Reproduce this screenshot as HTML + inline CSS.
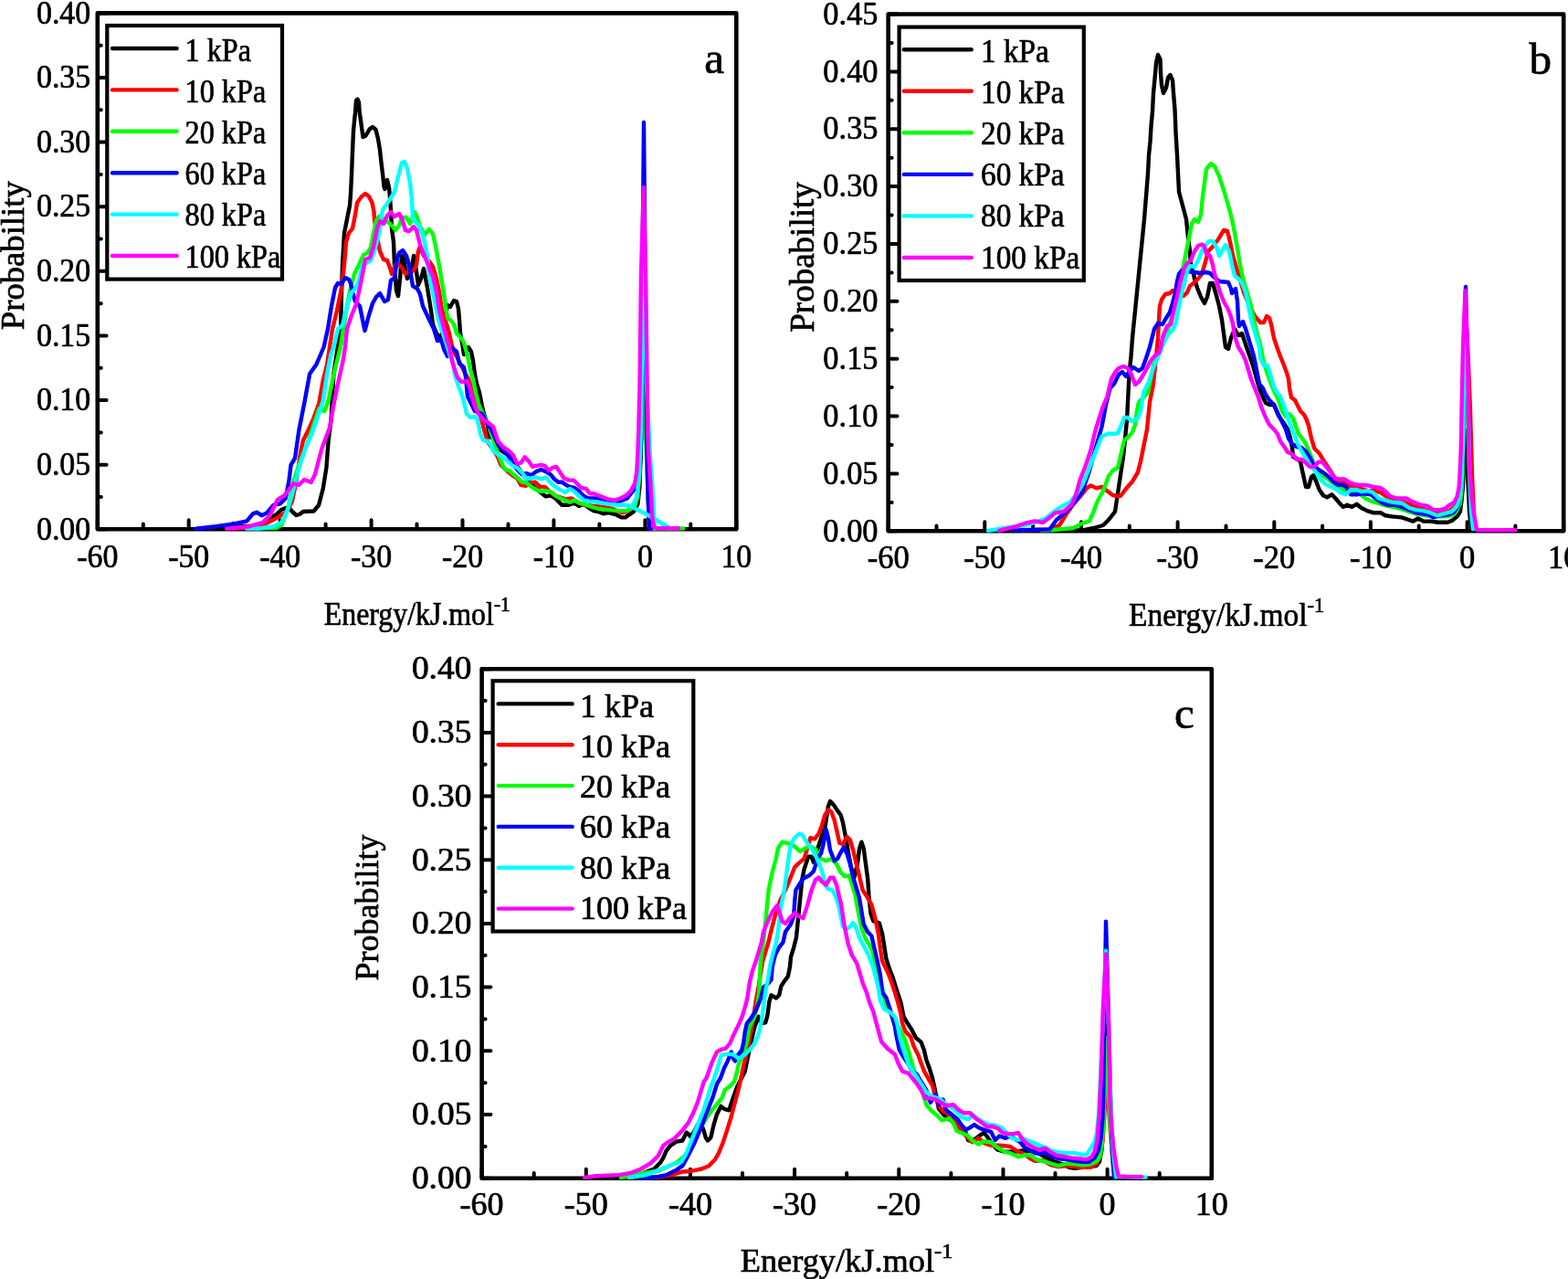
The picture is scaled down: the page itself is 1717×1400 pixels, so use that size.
<!DOCTYPE html><html><head><meta charset="utf-8"><title>Energy distribution</title>
<style>html,body{margin:0;padding:0;background:#fff;overflow:hidden}svg{display:block}text{font-family:"Liberation Serif","Times New Roman",serif;fill:#000;stroke:#000;stroke-width:0.7px}</style></head><body>
<svg width="1717" height="1400" viewBox="0 0 1717 1400">
<rect width="1717" height="1400" fill="#fff"/>
<g id="plot-a">
<path d="M106.8 579.3 V569.3 M156.8 579.3 V573.5 M206.7 579.3 V569.3 M256.7 579.3 V573.5 M306.7 579.3 V569.3 M356.6 579.3 V573.5 M406.6 579.3 V569.3 M456.5 579.3 V573.5 M506.5 579.3 V569.3 M556.5 579.3 V573.5 M606.4 579.3 V569.3 M656.4 579.3 V573.5 M706.4 579.3 V569.3 M756.3 579.3 V573.5 M806.3 579.3 V569.3 M106.8 579.3 H116.6 M106.8 544 H110.8 M106.8 508.7 H116.6 M106.8 473.4 H110.8 M106.8 438.1 H116.6 M106.8 402.8 H110.8 M106.8 367.5 H116.6 M106.8 332.2 H110.8 M106.8 296.8 H116.6 M106.8 261.5 H110.8 M106.8 226.2 H116.6 M106.8 190.9 H110.8 M106.8 155.6 H116.6 M106.8 120.3 H110.8 M106.8 85 H116.6 M106.8 49.7 H110.8 M106.8 14.4 H116.6" stroke="#000" stroke-width="4" stroke-linecap="round" fill="none"/>
<rect x="106.8" y="14.4" width="699.5" height="564.9" fill="none" stroke="#000" stroke-width="4.6" stroke-linejoin="round"/>
<clipPath id="clip-a"><rect x="106.8" y="14.4" width="699.5" height="566.4"/></clipPath>
<g clip-path="url(#clip-a)" fill="none" stroke-width="4.4" stroke-linejoin="round" stroke-linecap="round">
<path d="M230 578.5 L250 576 L256 573 L262 576 L280 576 L290 572 L297 566 L303 563 L308 558 L313 556 L317 556 L320 560 L324.5 564 L328 563 L332 560 L343.5 559.5 L349 553 L353.7 535 L357.4 512 L359.6 482.5 L362.5 460 L365.4 409 L369.8 380 L373 360 L374 320 L375 290 L377 255 L380 240 L383 225 L384 212 L385 192 L386 166 L387 143 L389 123 L390 110 L391.5 108.5 L393 112 L393.5 121 L395 132 L397.5 150 L400 149 L405 141 L408 139 L411.5 142 L414 152 L416 164 L417.5 178 L419 190 L420.5 204 L421.5 207 L424 197 L426 205 L427 216 L428 230 L429 250 L431 265 L432 290 L434 318 L436 324 L438 305 L440 280 L442 284 L446 305 L450 300 L453 280 L455 290 L458 312 L461 305 L464 294 L468 315 L472 340 L474 355 L478 365 L483 370 L485 362 L490 334 L493 336 L497 329 L500 330 L502 338 L503 350 L504 365 L506 375 L508 388 L513 380 L516 385 L518 395 L520 410 L522 420 L525 430 L528 445 L530 453 L534 465 L536 478 L540 480 L545 490 L550 494 L556 498 L561 502.5 L566 510 L575 522 L580 528 L587 535 L597.7 543.4 L603 542.3 L608 545.5 L615.5 552.8 L621.8 552.8 L629 550.7 L634 554 L639.6 551.8 L645 556 L650 559 L655 560 L660.6 562.3 L666 561 L674 563 L680.5 566.4 L684.7 566.4 L689 563.3 L694 560 L698.3 552 L700.4 533 L701.5 501 L703 450 L705 395 L707 450 L708.8 501.5 L709.8 543.4 L711 578.5" stroke="#000000"/>
<path d="M255 578.5 L275 577 L290.8 573.3 L302.5 567.4 L314.2 560 L320 548.4 L324.5 526.4 L328.8 497.1 L331.8 482.5 L337.6 470.8 L343.5 457.6 L349.3 441.5 L353.7 416.6 L358.1 399 L361 380 L364 360 L369 340 L374 315 L377 290 L379 265 L382 255 L386 250 L389 235 L391 222 L396 215 L400 212 L404 215 L407.5 222 L409.5 232 L410 240 L413 260 L416 275 L420 284 L424 285 L427 293 L429 300 L433 290 L437 290 L440 293 L444 300 L448 297 L453 296 L456 290 L458 275 L460 270 L464 280 L470 286 L474 292 L478 305 L481 320 L484 340 L490 358 L492 365 L494 375 L497 385 L500 390 L505 400 L510 410 L513 415 L518 430 L523 445 L528 462 L530 470 L533 480 L535 485 L540 492 L545 500 L548.4 508.8 L553.6 514 L561 520.3 L566.2 523.5 L570.4 530.8 L575.6 531.9 L580.9 528.7 L586.1 527.7 L591.4 532.9 L596.6 532.9 L601.9 538.1 L607.1 542.3 L613.4 544.4 L619.7 546.5 L626 545.5 L632.3 549.7 L639.6 552.8 L650.1 553.9 L660.6 554.9 L671 557 L681.5 561.2 L688.9 559.1 L695.2 553.9 L699.3 532.9 L701.4 501.5 L703 440 L705 330 L707 440 L709 520 L711 578.5" stroke="#ff0000"/>
<path d="M280 578.5 L295 578 L302.5 578 L308.3 574.7 L315.7 555.7 L321.5 526.4 L327.4 508.8 L337.6 482.5 L346.4 456.1 L349.3 447.3 L355.2 450.3 L359.6 438.6 L364 416.6 L368.4 397.6 L372.8 380 L376 360 L380 335 L384 315 L388 300 L393 290 L398 279 L402 277 L406 271 L409 255 L412 242 L415 237 L420 240 L426 244 L430 248 L433 252 L437 247 L440 238 L445 238 L449 245 L454 232 L456 236 L460 248 L465 257 L470 251 L474 256 L476 265 L479 280 L482 297 L485 315 L488 335 L490 348 L494 351 L497 355 L500 365 L505 370 L508 375 L512 390 L515 405 L518 415 L521 430 L525 445 L530 455 L535 465 L540 481 L545.2 496.2 L550.5 509.8 L553.6 514 L557.8 515.1 L561 518.2 L566.2 522.4 L571.5 527.7 L576.7 528.7 L581.9 532.9 L587.2 536 L592.4 538.1 L597.7 537.1 L602.9 538.1 L608.1 542.3 L613.4 545.5 L618.6 547.6 L623.9 549.7 L629.1 547.6 L634.3 550.7 L639.6 551.8 L644.8 553.9 L655.3 557 L665.8 558.1 L676.3 559.1 L686.8 559.1 L695.2 553.9 L698.3 543.4 L700.4 512 L702.5 470 L705 370 L707 470 L709 530 L711 570 L713 578.5 L748 578.5" stroke="#00ff00"/>
<path d="M214.6 578.8 L236.6 576.2 L258.6 573 L270.3 570.3 L276.9 562.3 L281.3 560.8 L286.4 564.2 L292.2 561.5 L299.6 552.8 L306.9 551.3 L312.7 545.4 L316.4 526.4 L318.6 508.8 L323 501.5 L327.4 470.8 L333.2 441.5 L339.1 409.3 L346.4 399 L354.5 380 L359 360 L363 335 L367 315 L370 310 L374 311 L378 304 L382 306 L384 310 L386 320 L389 330 L394 335 L397 350 L399.5 362 L404 345 L408 332 L412 325 L416 321 L421 330 L425 328 L428 307 L432 304 L435 283 L437 277 L441 274 L445 280 L448 290 L452 313 L457 316 L460 322 L463 335 L470 350 L475 360 L479 373 L483 371 L486 382 L490 390 L494 380 L500 385 L503 398 L508 402 L510 413 L512 434 L520 450 L528 453 L534 465 L538 470 L546 488 L550 491 L555.7 497.3 L561 506.7 L566.2 514 L571.5 519.3 L576.7 518.2 L581.9 520.3 L587.2 516.1 L592.4 514 L597.7 516.1 L602.9 519.3 L607.1 524.5 L611.3 527.7 L615.5 527.7 L619.7 530.8 L623.9 532.9 L629.1 534 L634.3 538.1 L639.6 543.4 L644.8 545.5 L655.3 545.5 L665.8 547.6 L676.3 549.7 L686.8 545.5 L695.2 535 L699.3 522.4 L701.4 501.5 L702.5 470 L703.5 300 L705 134 L706.5 300 L708 470 L709.5 540 L711 578.8 L713 578.8" stroke="#0000ff"/>
<path d="M270 578.8 L282 578.8 L299.6 576.2 L308.3 571.8 L314.2 560 L320 541 L327.4 511.8 L334.7 489.8 L342 473.7 L347.9 456.1 L353.7 438.6 L358.1 409.3 L362.5 387.3 L365.4 380 L370 360 L375 356 L380 335 L385 320 L389 316 L393 307 L397 290 L401 288 L406 285 L410 275 L414 260 L416 250 L419 230 L420 228 L426 220 L432 210 L436 193 L440 178 L443 177 L446 185 L449 200 L451 218 L452 240 L458 246 L462 255 L465 265 L468 280 L470 300 L474 320 L480 350 L485 365 L490 380 L493 390 L495 392 L498 410 L502 423 L505 430 L508 440 L511 453 L515 457 L520 456 L523 460 L526 475 L529 482 L534 483 L538 488 L540 494 L545.2 497.3 L550.5 500.4 L555.7 504.6 L561 509.8 L566.2 511.9 L571.5 517.2 L576.7 524.5 L581.9 523.5 L587.2 522.4 L592.4 524.5 L597.7 522.4 L602.9 528.7 L608.1 532.9 L613.4 536 L618.6 539.2 L623.9 535 L629.1 538.1 L634.3 543.4 L639.6 547.6 L644.8 548.6 L655.3 549.7 L665.8 551.8 L676.3 552.8 L684.7 552.8 L690 554 L700 559 L710 564 L720 570 L730 576 L733 578.5" stroke="#00ffff"/>
<path d="M692 554 L697 545 L700 520 L702 470 L705 250 L708 420 L712 500 L714 527 L716 560 L717 578.5" stroke="#00ffff"/>
<path d="M248.3 578.8 L273.2 576.2 L287.8 571.8 L295.2 564.5 L304 546.9 L311.3 542.5 L321.5 529.3 L327.4 530.8 L333.2 525 L340.6 527.9 L345 519.1 L352.3 491.3 L361.1 467.8 L365.4 443 L369.8 421 L375.7 394.6 L377.9 380 L380 360 L385 345 L390 333 L394 315 L397 300 L400 284 L405 282 L409 270 L413 250 L416 242 L420 245 L424 236 L428 232 L432 237 L437 234 L440 239 L444 252 L448 253 L453 248 L456 252 L460 268 L464 278 L468 288 L472 298 L474 302 L478 320 L481 340 L485 355 L489 370 L492 380 L495 395 L498 405 L501 413 L505 418 L511 417 L514 423 L517 435 L520 445 L524 453 L530 460 L535 463 L540 467 L545.2 482.6 L550.5 488.9 L557.8 494.1 L562 498.3 L566.2 507.7 L570.4 506.7 L574.6 500.4 L578.8 504.6 L583 510.9 L587.2 509.8 L592.4 508.8 L596.6 509.8 L600.8 515.1 L605 511.9 L609.2 510.9 L613.4 517.2 L617.6 523.5 L622.8 525.6 L628.1 525.6 L632.3 529.8 L636.4 534 L641.7 535 L645.9 540.2 L650.1 540.2 L655.3 542.3 L660.6 544.4 L665.8 546.5 L673.1 547.6 L679.4 545.5 L685.7 542.3 L691 537.1 L695.2 528.7 L697.2 517.2 L698.3 496.2 L699.3 470 L700.5 420 L702 300 L704.8 205 L707 300 L709.3 470 L709.8 491 L711.9 522.4 L713 543.4 L714 564.3 L716 577 L720 578.3 L743 578.3" stroke="#ff00ff"/>
</g>
<text transform="translate(99.2 590.5) scale(0.94 1)" font-size="36" text-anchor="end">0.00</text>
<text transform="translate(99.2 519.9) scale(0.94 1)" font-size="36" text-anchor="end">0.05</text>
<text transform="translate(99.2 449.3) scale(0.94 1)" font-size="36" text-anchor="end">0.10</text>
<text transform="translate(99.2 378.7) scale(0.94 1)" font-size="36" text-anchor="end">0.15</text>
<text transform="translate(99.2 308) scale(0.94 1)" font-size="36" text-anchor="end">0.20</text>
<text transform="translate(99.2 237.4) scale(0.94 1)" font-size="36" text-anchor="end">0.25</text>
<text transform="translate(99.2 166.8) scale(0.94 1)" font-size="36" text-anchor="end">0.30</text>
<text transform="translate(99.2 96.2) scale(0.94 1)" font-size="36" text-anchor="end">0.35</text>
<text transform="translate(99.2 25.6) scale(0.94 1)" font-size="36" text-anchor="end">0.40</text>
<text transform="translate(106.8 621) scale(0.94 1)" font-size="36" text-anchor="middle">-60</text>
<text transform="translate(206.7 621) scale(0.94 1)" font-size="36" text-anchor="middle">-50</text>
<text transform="translate(306.7 621) scale(0.94 1)" font-size="36" text-anchor="middle">-40</text>
<text transform="translate(406.6 621) scale(0.94 1)" font-size="36" text-anchor="middle">-30</text>
<text transform="translate(506.5 621) scale(0.94 1)" font-size="36" text-anchor="middle">-20</text>
<text transform="translate(606.4 621) scale(0.94 1)" font-size="36" text-anchor="middle">-10</text>
<text transform="translate(706.4 621) scale(0.94 1)" font-size="36" text-anchor="middle">0</text>
<text transform="translate(806.3 621) scale(0.94 1)" font-size="36" text-anchor="middle">10</text>
<text transform="translate(354.8 683.7) scale(0.885 1)" font-size="36">Energy/kJ.mol<tspan font-size="24" dy="-15">-1</tspan></text>
<text transform="translate(25.7 279.7) rotate(-90)" font-size="36.7" text-anchor="middle">Probability</text>
<text transform="translate(771.2 79.5) scale(1.0 1)" font-size="49">a</text>
<rect x="117.3" y="28.0" width="191.7" height="277.6" fill="#fff" stroke="#000" stroke-width="4.2"/>
<path d="M123 53 H193.6" stroke="#000000" stroke-width="4.4" stroke-linecap="round"/>
<text transform="translate(202.6 67.1) scale(0.895 1)" font-size="36">1 kPa</text>
<path d="M123 98.4 H193.6" stroke="#ff0000" stroke-width="4.4" stroke-linecap="round"/>
<text transform="translate(202.6 112.2) scale(0.895 1)" font-size="36">10 kPa</text>
<path d="M123 143.8 H193.6" stroke="#00ff00" stroke-width="4.4" stroke-linecap="round"/>
<text transform="translate(202.6 157.3) scale(0.895 1)" font-size="36">20 kPa</text>
<path d="M123 189.2 H193.6" stroke="#0000ff" stroke-width="4.4" stroke-linecap="round"/>
<text transform="translate(202.6 202.3) scale(0.895 1)" font-size="36">60 kPa</text>
<path d="M123 234.6 H193.6" stroke="#00ffff" stroke-width="4.4" stroke-linecap="round"/>
<text transform="translate(202.6 247.4) scale(0.895 1)" font-size="36">80 kPa</text>
<path d="M123 280 H193.6" stroke="#ff00ff" stroke-width="4.4" stroke-linecap="round"/>
<text transform="translate(202.6 292.5) scale(0.895 1)" font-size="36">100 kPa</text>
</g>
<g id="plot-b">
<path d="M972.7 581.3 V571.3 M1025.5 581.3 V575.5 M1078.3 581.3 V571.3 M1131.2 581.3 V575.5 M1184 581.3 V571.3 M1236.8 581.3 V575.5 M1289.6 581.3 V571.3 M1342.5 581.3 V575.5 M1395.3 581.3 V571.3 M1448.1 581.3 V575.5 M1500.9 581.3 V571.3 M1553.7 581.3 V575.5 M1606.6 581.3 V571.3 M1659.4 581.3 V575.5 M1712.2 581.3 V571.3 M972.7 581.3 H982.5 M972.7 549.9 H976.7 M972.7 518.4 H982.5 M972.7 487 H976.7 M972.7 455.6 H982.5 M972.7 424.1 H976.7 M972.7 392.7 H982.5 M972.7 361.3 H976.7 M972.7 329.8 H982.5 M972.7 298.4 H976.7 M972.7 267 H982.5 M972.7 235.5 H976.7 M972.7 204.1 H982.5 M972.7 172.7 H976.7 M972.7 141.2 H982.5 M972.7 109.8 H976.7 M972.7 78.4 H982.5 M972.7 46.9 H976.7 M972.7 15.5 H982.5" stroke="#000" stroke-width="4" stroke-linecap="round" fill="none"/>
<rect x="972.7" y="15.5" width="739.5" height="565.8" fill="none" stroke="#000" stroke-width="4.6" stroke-linejoin="round"/>
<clipPath id="clip-b"><rect x="972.7" y="15.5" width="739.5" height="567.3"/></clipPath>
<g clip-path="url(#clip-b)" fill="none" stroke-width="4.4" stroke-linejoin="round" stroke-linecap="round">
<path d="M1160 580.5 L1187 580.2 L1197.5 578 L1208 575 L1214 569 L1221 560 L1224 540 L1227 520 L1230 500 L1232 480 L1234 460 L1235 440 L1236 420 L1237 405 L1238.5 390 L1240 370 L1242 350 L1244 330 L1246 310 L1247 300 L1249 280 L1251 260 L1253 240 L1255 215 L1257 190 L1258 170 L1259.5 155 L1260.5 138 L1262 122 L1263 102 L1265 81 L1266 69 L1268 60 L1270.5 65 L1271 80 L1272 93 L1274 102 L1277 96 L1279 85 L1281.5 82 L1284 88 L1285 102 L1286.5 120 L1287.5 145 L1289 170 L1290 190 L1291 210 L1295 225 L1299 240 L1301 260 L1303 275 L1304 290 L1307 300 L1308 305 L1311 315 L1315 325 L1319 332 L1322 325 L1325 310 L1328 310 L1331 320 L1335 335 L1338 350 L1340 365 L1342 380 L1345 382 L1348 370 L1352 360 L1356 367 L1360 365 L1365 380 L1372 400 L1377 418 L1379 425 L1383 435 L1386 441 L1390 443 L1395 443 L1400 455 L1405 462 L1410 470 L1413 480 L1415 490 L1416 500 L1420 502 L1424 505 L1426 515 L1430 533 L1433 533 L1436 522 L1438.4 520.3 L1441.5 527.7 L1444.7 536 L1448.9 542.3 L1453.1 544.4 L1458.3 541.3 L1462.5 545.5 L1466.7 550.7 L1470.9 554.9 L1475.1 552.8 L1480.3 554.9 L1485.6 551.8 L1490.8 556 L1497.1 559.1 L1503.4 561.2 L1511.8 561.2 L1517 564.3 L1524.3 565.4 L1534.8 566.4 L1541.1 568.5 L1547.4 570.6 L1552.7 567.5 L1558.9 570.6 L1566.3 570.6 L1574.7 571.7 L1585.2 571.7 L1590.4 569.6 L1595.6 565.4 L1598.8 560.2 L1600.4 548.6 L1601.9 532.9 L1603 511.9 L1604 485.7 L1605 471 L1606.5 490 L1607.5 528 L1609 560 L1611 579" stroke="#000000"/>
<path d="M1120 580.5 L1151 579.4 L1160 575 L1167.5 563 L1175 552.4 L1184 542 L1190 534.4 L1194.5 531.4 L1200.5 534.4 L1206.5 533 L1212.5 537.4 L1218.5 542 L1223 543 L1227 543 L1233 535 L1240 527 L1246 517 L1249 505 L1252 490 L1254 480 L1256 470 L1257.5 455 L1259 440 L1261 430 L1263 420 L1264 410 L1266 390 L1268 370 L1269 350 L1270 335 L1272 328 L1276 322 L1281 321 L1284 318 L1290 322 L1296 324 L1300 320 L1303 313 L1307 310 L1312 305 L1316 300 L1319 290 L1323 275 L1328 270 L1334 262 L1340 252 L1344 253 L1347 265 L1350 280 L1353 290 L1356 300 L1359 310 L1362 320 L1366 330 L1370 338 L1374 346 L1380 353 L1384 353 L1387 346 L1390 348 L1392 355 L1395 370 L1399 382 L1402 390 L1406 400 L1409 408 L1411 415 L1412 425 L1414 435 L1418 438 L1421 444 L1424 450 L1428 454 L1431 460 L1433 466 L1436 480 L1439.4 491 L1444.7 496.2 L1448.9 503.5 L1453.1 509.8 L1457.3 516.1 L1462.5 524.5 L1468.8 527.7 L1475.1 530.8 L1482.4 532.9 L1490.8 535 L1498.1 537.1 L1505.5 537.1 L1511.8 539.2 L1518.1 543.4 L1524.3 546.5 L1534.8 548.6 L1545.3 552.8 L1555.8 556 L1566.3 560.2 L1576.8 562.3 L1587.2 559.1 L1593.5 553.9 L1597.7 543.4 L1599.8 522.4 L1600.9 491 L1603 420 L1605 340 L1608 400 L1610 450 L1612 520 L1614 565 L1616 579" stroke="#ff0000"/>
<path d="M1140 580.5 L1152.5 580.2 L1175 578 L1184 573.4 L1193 570.4 L1197.5 560 L1202 548 L1208 537.4 L1214 521 L1218.5 515 L1224 512 L1228 495 L1231 482 L1236 478 L1240 473 L1243 465 L1245 450 L1247 440 L1252 435 L1257 430 L1261 410 L1264 395 L1270 385 L1275 372 L1280 357 L1284 345 L1288 330 L1292 312 L1295 295 L1299 275 L1302 260 L1305 245 L1308 240 L1312 243 L1315 235 L1317 215 L1319 200 L1321 185 L1326 179 L1330 182 L1335 193 L1340 208 L1345 225 L1349 240 L1352 255 L1355 272 L1358 290 L1361 305 L1364 315 L1367 325 L1370 335 L1373 350 L1377 367 L1380 377 L1383 393 L1387 407 L1391 418 L1395 428 L1400 438 L1404 450 L1408 456 L1412 453 L1416 458 L1419 467 L1422 475 L1426 480 L1430 486 L1434.2 496.2 L1438.4 506.7 L1442.6 514 L1447.8 520.3 L1453.1 523.5 L1459.4 528.7 L1464.6 531.9 L1469.8 535 L1476.1 538.1 L1482.4 538.1 L1488.7 540.2 L1495 545.5 L1501.3 548.6 L1508.6 550.7 L1519.1 553.9 L1529.6 556 L1540.1 559.1 L1550.6 562.3 L1561 564.3 L1571.5 565.4 L1582 565.4 L1589.4 564.3 L1594.6 560.2 L1598.8 551.8 L1600.9 532.9 L1601.9 501.5 L1603 450 L1605 380 L1607 450 L1609 520 L1611 560 L1613 579" stroke="#00ff00"/>
<path d="M1110 580.5 L1127 580 L1149.5 579.4 L1157 569 L1167.5 560 L1178 548 L1185.5 537.4 L1193 515 L1200.5 488 L1206.5 467 L1211 443 L1215.5 425 L1220 420 L1225 410 L1229 407 L1233 412 L1237 406 L1241 402 L1247 406 L1251 403 L1255 392 L1259 380 L1262 368 L1264 360 L1268 354 L1273 355 L1277 348 L1281 342 L1284 332 L1287 320 L1289 308 L1291 300 L1294 296 L1300 297 L1308 298 L1314 299 L1320 298 L1325 299 L1328 302 L1335 308 L1345 309 L1348 316 L1349 321 L1353 316 L1355 330 L1356 350 L1357 357 L1361 352 L1364 360 L1367 370 L1370 380 L1373 390 L1376 405 L1379 420 L1383 425 L1386 432 L1390 438 L1395 443 L1399 452 L1404 462 L1408 470 L1411 480 L1415 486 L1420 489 L1425 490 L1430 494.1 L1435.2 502.5 L1438.4 508.8 L1443.6 514 L1448.9 517.2 L1453.1 520.3 L1459.4 526.6 L1464.6 530.8 L1469.8 530.8 L1474 532.9 L1479.3 541.3 L1485.6 541.3 L1492.9 540.2 L1501.3 541.3 L1507.6 546.5 L1513.9 550.7 L1520.2 552.8 L1527.5 552.8 L1534.8 554.9 L1543.2 558.1 L1550.6 561.2 L1557.9 562.3 L1564.2 563.3 L1569.4 566.4 L1576.8 564.3 L1585.2 563.3 L1591.4 561.2 L1596.7 553.9 L1599.8 532.9 L1601.9 501.5 L1603 420 L1605 314 L1607 420 L1609 500 L1611 560 L1613 579" stroke="#0000ff"/>
<path d="M1082 581 L1100 578 L1122.5 575 L1137.5 570.4 L1145 567.4 L1154 560 L1163 554 L1172 549.4 L1178 542 L1185.5 530 L1193 512 L1200.5 492.5 L1206.5 477.5 L1214 474.5 L1220 475 L1224 474 L1228 465 L1231 457 L1235 457 L1239 461 L1246 458 L1249 450 L1252 430 L1258 418 L1262 405 L1266 395 L1270 386 L1273 378 L1277 370 L1281 364 L1285 360 L1288 352 L1290 340 L1292 330 L1294 320 L1297 310 L1300 296 L1303 291 L1308 292 L1312 285 L1316 275 L1320 268 L1324 264 L1328 264 L1332 270 L1335 280 L1338 275 L1342 268 L1346 275 L1349 290 L1352 302 L1356 305 L1360 310 L1364 320 L1366 330 L1368 340 L1370 350 L1373 360 L1376 370 L1379 380 L1380 392 L1384 400 L1388 400 L1391 410 L1394 420 L1397 428 L1402 434 L1405 442 L1408 450 L1411 460 L1414 468 L1418 478 L1422 488 L1426 495 L1431 503 L1435 510 L1440.5 516.1 L1445.7 524.5 L1451 529.8 L1457.3 532.9 L1462.5 535 L1467.7 539.2 L1474 541.3 L1479.3 536 L1485.6 536 L1490.8 538.1 L1498.1 537.1 L1503.4 539.2 L1509.7 545.5 L1517 547.6 L1524.3 549.7 L1534.8 550.7 L1543.2 556 L1550.6 558.1 L1558.9 559.1 L1566.3 561.2 L1573.6 564.3 L1581 562.3 L1589.4 560.2 L1595.6 553.9 L1598.8 543.4 L1600.9 522.4 L1601.9 491 L1603 420 L1605 330 L1607 420 L1609 500 L1611 560 L1613 579" stroke="#00ffff"/>
<path d="M1094 581 L1112 576.4 L1122.5 572.7 L1133 570.4 L1142 572 L1148 567.4 L1155.5 561.4 L1164.5 560 L1173.5 552.4 L1178 542 L1182.5 525.4 L1188.5 510.5 L1194.5 492.5 L1199 473 L1203.5 458 L1208 444.5 L1212.5 434 L1217 414.5 L1221.5 407 L1225 403 L1230 401 L1235 403 L1239 410 L1243 421 L1247 418 L1252 410 L1256 403 L1260 395 L1264 390 L1269 386 L1271 380 L1273 370 L1275 364 L1278 357 L1282 355 L1284 346 L1287 332 L1290 320 L1292 310 L1295 300 L1296 295 L1300 288 L1304 285 L1308 275 L1312 269 L1316 267.5 L1319 270 L1321 278 L1325 280 L1328 290 L1330 300 L1333 310 L1336 320 L1340 330 L1344 337 L1347 344 L1350 354 L1352 368 L1356 380 L1361 388 L1364 395 L1367 405 L1370 415 L1374 425 L1378 435 L1381 445 L1385 455 L1390 465 L1395 470 L1399 475 L1402 483 L1407 490 L1410 495 L1415 497 L1420 503 L1426 503 L1430 506.7 L1434.2 510.9 L1439.4 510.9 L1443.6 505.6 L1447.8 505.6 L1453.1 511.9 L1457.3 517.2 L1461.5 523.5 L1466.7 524.5 L1471.9 524.5 L1477.2 527.7 L1482.4 529.8 L1488.7 530.8 L1498.1 531.3 L1503.4 532.9 L1511.8 533.9 L1516 537.1 L1522.3 543.4 L1529.6 545.5 L1540.1 545.5 L1545.3 548.6 L1550.6 550.7 L1555.8 552.8 L1563.1 553.9 L1569.4 558.1 L1576.8 558.1 L1582 557 L1587.2 552.8 L1592.5 549.7 L1595.6 543.4 L1597.7 532.9 L1598.8 514 L1599.8 491 L1600.5 450 L1602 380 L1604.5 318 L1607 380 L1608.6 500 L1611.4 542.9 L1614.3 564.3 L1617.1 580.2 L1659.3 580.2" stroke="#ff00ff"/>
</g>
<text transform="translate(961.5 592.5) scale(0.955 1)" font-size="36" text-anchor="end">0.00</text>
<text transform="translate(961.5 529.6) scale(0.955 1)" font-size="36" text-anchor="end">0.05</text>
<text transform="translate(961.5 466.8) scale(0.955 1)" font-size="36" text-anchor="end">0.10</text>
<text transform="translate(961.5 403.9) scale(0.955 1)" font-size="36" text-anchor="end">0.15</text>
<text transform="translate(961.5 341) scale(0.955 1)" font-size="36" text-anchor="end">0.20</text>
<text transform="translate(961.5 278.2) scale(0.955 1)" font-size="36" text-anchor="end">0.25</text>
<text transform="translate(961.5 215.3) scale(0.955 1)" font-size="36" text-anchor="end">0.30</text>
<text transform="translate(961.5 152.4) scale(0.955 1)" font-size="36" text-anchor="end">0.35</text>
<text transform="translate(961.5 89.6) scale(0.955 1)" font-size="36" text-anchor="end">0.40</text>
<text transform="translate(961.5 26.7) scale(0.955 1)" font-size="36" text-anchor="end">0.45</text>
<text transform="translate(972.7 622.2) scale(0.96 1)" font-size="36" text-anchor="middle">-60</text>
<text transform="translate(1078.3 622.2) scale(0.96 1)" font-size="36" text-anchor="middle">-50</text>
<text transform="translate(1184 622.2) scale(0.96 1)" font-size="36" text-anchor="middle">-40</text>
<text transform="translate(1289.6 622.2) scale(0.96 1)" font-size="36" text-anchor="middle">-30</text>
<text transform="translate(1395.3 622.2) scale(0.96 1)" font-size="36" text-anchor="middle">-20</text>
<text transform="translate(1500.9 622.2) scale(0.96 1)" font-size="36" text-anchor="middle">-10</text>
<text transform="translate(1606.6 622.2) scale(0.96 1)" font-size="36" text-anchor="middle">0</text>
<text transform="translate(1712.2 622.2) scale(0.96 1)" font-size="36" text-anchor="middle">10</text>
<text transform="translate(1236 685.1) scale(0.93 1)" font-size="36">Energy/kJ.mol<tspan font-size="24" dy="-15">-1</tspan></text>
<text transform="translate(891.4 281.5) rotate(-90)" font-size="37" text-anchor="middle">Probability</text>
<text transform="translate(1674.5 80.5) scale(1.0 1)" font-size="49">b</text>
<rect x="984.6" y="29.6" width="202.2" height="277.4" fill="#fff" stroke="#000" stroke-width="4.2"/>
<path d="M989.8 54.2 H1063.7" stroke="#000000" stroke-width="4.4" stroke-linecap="round"/>
<text transform="translate(1074 68) scale(0.925 1)" font-size="36">1 kPa</text>
<path d="M989.8 99.8 H1063.7" stroke="#ff0000" stroke-width="4.4" stroke-linecap="round"/>
<text transform="translate(1074 113.1) scale(0.925 1)" font-size="36">10 kPa</text>
<path d="M989.8 145.3 H1063.7" stroke="#00ff00" stroke-width="4.4" stroke-linecap="round"/>
<text transform="translate(1074 158.2) scale(0.925 1)" font-size="36">20 kPa</text>
<path d="M989.8 190.9 H1063.7" stroke="#0000ff" stroke-width="4.4" stroke-linecap="round"/>
<text transform="translate(1074 203.3) scale(0.925 1)" font-size="36">60 kPa</text>
<path d="M989.8 236.4 H1063.7" stroke="#00ffff" stroke-width="4.4" stroke-linecap="round"/>
<text transform="translate(1074 248.4) scale(0.925 1)" font-size="36">80 kPa</text>
<path d="M989.8 282 H1063.7" stroke="#ff00ff" stroke-width="4.4" stroke-linecap="round"/>
<text transform="translate(1074 293.5) scale(0.925 1)" font-size="36">100 kPa</text>
</g>
<g id="plot-c">
<path d="M527.6 1289.7 V1279.7 M584.7 1289.7 V1283.9 M641.8 1289.7 V1279.7 M698.9 1289.7 V1283.9 M755.9 1289.7 V1279.7 M813 1289.7 V1283.9 M870.1 1289.7 V1279.7 M927.2 1289.7 V1283.9 M984.3 1289.7 V1279.7 M1041.4 1289.7 V1283.9 M1098.5 1289.7 V1279.7 M1155.5 1289.7 V1283.9 M1212.6 1289.7 V1279.7 M1269.7 1289.7 V1283.9 M1326.8 1289.7 V1279.7 M527.6 1289.7 H537.4 M527.6 1254.9 H531.6 M527.6 1220 H537.4 M527.6 1185.2 H531.6 M527.6 1150.3 H537.4 M527.6 1115.5 H531.6 M527.6 1080.6 H537.4 M527.6 1045.8 H531.6 M527.6 1011 H537.4 M527.6 976.1 H531.6 M527.6 941.3 H537.4 M527.6 906.4 H531.6 M527.6 871.6 H537.4 M527.6 836.7 H531.6 M527.6 801.9 H537.4 M527.6 767 H531.6 M527.6 732.2 H537.4" stroke="#000" stroke-width="4" stroke-linecap="round" fill="none"/>
<rect x="527.6" y="732.2" width="799.2" height="557.5" fill="none" stroke="#000" stroke-width="4.6" stroke-linejoin="round"/>
<clipPath id="clip-c"><rect x="527.6" y="732.2" width="799.1999999999999" height="559.0"/></clipPath>
<g clip-path="url(#clip-c)" fill="none" stroke-width="4.4" stroke-linejoin="round" stroke-linecap="round">
<path d="M690 1289.5 L707.5 1282.8 L716.3 1279.5 L723 1272.8 L726.3 1267.3 L729.6 1259.6 L734.1 1254 L740.7 1249.6 L747.3 1248.5 L751.8 1239.6 L754 1241.8 L756 1244 L760 1239 L764 1231 L768 1231 L770.5 1237 L772.8 1245.2 L775 1248.5 L778.3 1245.2 L781.7 1230.8 L785 1219.7 L789.4 1210.9 L793.8 1214.2 L798.3 1215.3 L802.7 1202 L807.1 1189.8 L811 1182 L815.7 1172.9 L818.6 1158.6 L822.1 1142 L826.4 1124 L830.7 1112.8 L834 1120 L838.2 1119.3 L840.3 1111.8 L842.5 1095.7 L844.6 1089.3 L850 1092.5 L853.2 1089.3 L855.3 1079.6 L858.6 1074.3 L862.8 1068.9 L865 1058.2 L866 1047.5 L869.3 1036.8 L872 1026 L873.7 1008.6 L876 985.7 L878.3 962.9 L880.6 951.4 L885.1 937.7 L888.6 937.7 L891 944 L895 930 L900 915 L903.4 905.7 L906.9 882.9 L909.1 877.1 L912.6 880.6 L917.1 887.4 L920.6 892 L922.9 900 L925.1 911.4 L927.4 924 L929.7 937.7 L932 949.1 L935.4 960.6 L938.9 945.7 L941.1 928.6 L943.4 921.7 L945.7 928.6 L948 945.7 L950.3 962.9 L951.4 980 L953.5 1000 L956.4 1008.2 L962.8 1010.4 L966.1 1022.1 L968.2 1035 L970.3 1048.9 L973.6 1059.6 L977.8 1070.3 L982.1 1084.3 L986.4 1097.1 L989.6 1113.2 L993.7 1120 L998.3 1126.9 L1002.9 1136 L1008.6 1140.6 L1012 1149.7 L1014.3 1160 L1017.7 1169.2 L1021.2 1180.6 L1023.4 1190.9 L1025.7 1202.3 L1028 1213.7 L1033.7 1220.6 L1039.4 1225.2 L1046.3 1229.8 L1053.2 1234.3 L1057.7 1240 L1060 1248 L1063.5 1249.2 L1069.2 1245.8 L1073.7 1242.3 L1077.2 1240 L1080.6 1243.5 L1085.2 1250.3 L1092 1258.3 L1100 1260.6 L1111.5 1260.6 L1120 1259.5 L1133.1 1260.4 L1146.2 1267.4 L1154.9 1271.7 L1163.7 1274.3 L1170.7 1277.8 L1176.8 1278.7 L1185.5 1277.8 L1194.3 1277 L1200.4 1276.1 L1203.9 1271.7 L1206.5 1258.6 L1208.5 1220 L1211 1123 L1213.5 1180 L1216 1230 L1219 1270 L1221 1289" stroke="#000000"/>
<path d="M700 1289.5 L718.6 1288.9 L735.2 1286.1 L746.2 1282.8 L757.3 1281.7 L768.4 1279.5 L776.1 1276.2 L782.8 1269.5 L787.2 1261.8 L791.6 1250.7 L796.1 1237.4 L800.5 1223 L804.9 1206.4 L809.3 1189.8 L811.4 1180 L814.3 1165.7 L817.1 1155 L819.3 1144.3 L821.4 1133.6 L823.6 1122.9 L825.7 1108.6 L827.9 1094.3 L830.7 1079.6 L835 1052.8 L838.2 1042.1 L841.4 1031.4 L844 1020.5 L848.6 1002.9 L854.3 985.7 L860 974.3 L865.7 960.6 L870.3 949.1 L874.9 944.6 L880.6 940 L884 928.6 L887.4 917.1 L892 918.3 L896.6 912.6 L900 903.4 L903.4 892 L906.9 886.3 L910.3 888.6 L913.7 897.7 L916 908 L919.4 922.9 L922.9 924 L927.4 916 L930.9 919.4 L934.3 930.9 L937.7 945.7 L941.1 959.4 L944.6 974.3 L949.1 981.1 L954.3 990 L958.6 1006.1 L961.8 1022.1 L963.9 1038.2 L966.1 1052.1 L971.4 1062.8 L975.7 1073.5 L980 1086.4 L983.2 1097.1 L986.4 1110 L988 1120 L991.4 1129.1 L997.1 1134.9 L1000.6 1145.2 L1005.2 1154.3 L1008.6 1163.4 L1012 1172.6 L1016.6 1180.6 L1021.2 1188.6 L1023.4 1197.7 L1028 1210.3 L1032.6 1216 L1039.4 1220.6 L1046.3 1228.6 L1050.9 1235.5 L1057.7 1243.5 L1064.6 1250.3 L1071.5 1245.8 L1078.3 1251.5 L1085.2 1253.8 L1094.3 1253.8 L1105.8 1254.9 L1114.9 1260.6 L1122.9 1264 L1128.6 1268.6 L1133.1 1270.9 L1141.8 1270 L1150.6 1275.2 L1159.3 1277 L1168 1276.1 L1176.8 1277 L1185.5 1277.8 L1194.3 1277.8 L1200.4 1274.3 L1203.9 1267.4 L1207.4 1249.9 L1209.1 1223.7 L1210 1201.8 L1211 1164 L1213 1200 L1216 1240 L1219 1275 L1221 1289" stroke="#ff0000"/>
<path d="M680 1289.5 L696.4 1285 L720 1282 L740.7 1272.8 L750 1265 L760 1250 L767 1235 L773.9 1223 L779.5 1215.3 L785 1208.6 L790.5 1202 L793.8 1193.1 L799.4 1188.7 L803.8 1184.3 L807.1 1173.2 L808.6 1165.7 L811.4 1158.6 L815.7 1147.9 L818.6 1137.1 L820 1126.4 L822.9 1119.3 L826.4 1112.1 L829.3 1101.4 L831.5 1083.6 L832.8 1052.8 L835 1036.8 L837.1 1020.7 L839.4 997.1 L841.7 974.3 L845.1 957.1 L849.7 940 L852 928.6 L856.6 921.7 L862.3 922.9 L868 925.1 L872.6 928.6 L876 932 L881.7 928.6 L887.4 926.3 L893.1 929.7 L898.9 940 L904.6 942.3 L910.3 940 L916 945.7 L920.6 954.9 L925.1 959.4 L929.7 958.3 L933.1 968.6 L936.6 980 L938.2 990 L943.6 1016.8 L947.8 1027.5 L954.3 1038.2 L958.6 1054.3 L965 1075.7 L968.2 1091.8 L971.4 1102.5 L980 1118 L986 1128 L991 1138 L996 1154.3 L1000.6 1171.4 L1005.2 1182.9 L1009.7 1194.3 L1014.3 1209.2 L1020 1216 L1025.7 1220.6 L1031.4 1226.3 L1039.4 1224 L1044 1229.8 L1047.5 1237.8 L1052 1240 L1058.9 1242.3 L1065.7 1249.2 L1071.5 1252.6 L1077.2 1249.2 L1085.2 1250.3 L1092 1256 L1100 1260.6 L1108 1262.9 L1114.9 1266.3 L1122.9 1264 L1128.7 1264.7 L1134.9 1269.1 L1141.8 1270.9 L1150.6 1273.5 L1159.3 1276.1 L1168 1273.5 L1176.8 1274.3 L1185.5 1275.2 L1194.3 1274.3 L1201.2 1270.9 L1204.7 1265.6 L1206.5 1254.3 L1208.2 1232.4 L1209.1 1206.2 L1210 1180 L1211 1136 L1213 1180 L1216 1240 L1219 1275 L1221 1289" stroke="#00ff00"/>
<path d="M700 1289.5 L718.6 1288.3 L729.6 1286.1 L740.7 1280.6 L747.3 1276.2 L754 1264 L760.6 1250.7 L767.3 1235.2 L773.9 1217.5 L780.6 1200.9 L785 1186.5 L789 1180 L792.9 1169.3 L796.4 1162.1 L798.6 1157.1 L800.7 1151.4 L802.9 1158.6 L805 1161.4 L807.9 1155 L812.1 1150 L814.3 1140.7 L815.7 1130 L817.8 1120.3 L822.1 1115 L827.5 1106.4 L832.8 1093.5 L836.1 1080.7 L841.4 1076.4 L844.6 1072.1 L845.7 1058.2 L848.9 1045.3 L853.2 1036.8 L857.5 1031.4 L860 1020 L865.7 1012 L869.1 1002.9 L870.3 985.7 L871.4 974.3 L874.9 968.6 L879.4 961.7 L886.3 958.3 L890.9 953.7 L893.1 946.9 L894.3 940 L898.9 934.3 L901.1 926.3 L903.4 914.9 L904.6 908 L906.9 917.1 L909.1 930.9 L913.7 942.3 L917.1 940 L920.6 933.1 L924 927.4 L927.4 934.3 L930.9 945.7 L934.3 960.6 L937.7 972 L941.1 983.4 L943 995 L945.7 1011.4 L950 1020 L954.3 1024.3 L957.5 1038.2 L960.7 1052.1 L963.9 1067.1 L966.1 1086.4 L970.3 1091.8 L974.6 1104.6 L980 1123.9 L981.1 1131.4 L984.6 1148.6 L989.1 1156.6 L993.7 1163.4 L998.3 1171.4 L1004 1176 L1008.6 1184 L1014.3 1193.2 L1018.9 1206.9 L1024.6 1197.7 L1028 1209.2 L1032.6 1203.5 L1036 1214.9 L1041.7 1219.5 L1048.6 1225.2 L1053.2 1232 L1057.7 1236.6 L1062.3 1234.3 L1066.9 1230.9 L1071.5 1234.3 L1077.2 1236.6 L1085.2 1238.9 L1089.8 1248 L1094.3 1243.5 L1101.2 1245.8 L1105.8 1243.5 L1117 1250 L1122 1256 L1127 1258.6 L1133.1 1262.1 L1139.2 1263 L1144.5 1261.2 L1150.6 1265.6 L1159.3 1268.2 L1168 1269.1 L1176.8 1270.9 L1185.5 1271.7 L1192.5 1271.7 L1198.6 1267.4 L1203 1258.6 L1205.6 1245.5 L1207.4 1223.7 L1208.2 1197.5 L1211 1008.6 L1213.5 1100 L1216 1200 L1218 1260 L1220 1289" stroke="#0000ff"/>
<path d="M688.7 1289 L707.5 1286.1 L724.1 1279.5 L735.2 1275.1 L746.2 1271.7 L751.8 1261.8 L756.2 1250.7 L760.6 1239.6 L765.1 1228.6 L769.5 1217.5 L773.9 1204.2 L778.3 1189.8 L782.1 1180 L785.7 1169.3 L788.6 1158.6 L790 1155 L797.1 1153.6 L802.9 1154.3 L808.6 1158.6 L815 1155 L822.1 1147.9 L827.1 1140.7 L830 1133.6 L832.1 1126.4 L833.9 1117.1 L836.1 1101 L838.2 1085 L841.4 1068.9 L843.6 1055 L846.8 1042.1 L850 1031.4 L852 1020 L854.3 997.1 L858.9 974.3 L861.1 957.1 L863.4 940 L865.7 926.3 L869.1 918.3 L874.9 912.6 L878.3 913.7 L884 922.9 L888.6 928.6 L893.1 936.6 L897.7 946.9 L901.1 957.1 L903.4 968.6 L906.9 973.1 L911.4 974.3 L914.9 981.1 L918.3 991.4 L920.6 1002.9 L922.9 1014.3 L926.3 1017 L930.7 1014.6 L933.9 1010.4 L937.1 1014.6 L941.4 1027.5 L946.8 1037.1 L951.1 1045.7 L955.3 1056.4 L958.6 1068.2 L961.8 1081 L963.9 1095 L968.2 1104.6 L974.6 1107.8 L980 1113.2 L982.3 1120 L985.7 1137.1 L990.3 1152 L994.9 1165.7 L1002.9 1177.2 L1008.6 1186.3 L1014.3 1195.5 L1020 1200 L1028 1202.3 L1033.7 1206.9 L1040.6 1211.5 L1046.3 1216 L1053.2 1222.9 L1060 1225.2 L1065.7 1220.6 L1071.5 1225.2 L1077.2 1228.6 L1082.9 1230.9 L1089.8 1232 L1096.6 1234.3 L1101.2 1238.9 L1108 1245.8 L1114.9 1248 L1120 1246 L1128.7 1249.9 L1137.5 1253.4 L1144.5 1256 L1150.6 1259.5 L1159.3 1261.2 L1168 1262.1 L1176.8 1262.1 L1185.5 1263.9 L1189.9 1263.9 L1194.3 1256.9 L1198.6 1250 L1201 1240 L1203 1220 L1205 1180 L1211 1040.7 L1214 1120 L1216 1200 L1219 1260 L1222 1287.9 L1254.5 1288.8" stroke="#00ffff"/>
<path d="M640 1288.9 L652.1 1287.2 L677.6 1286.1 L690.9 1283.9 L702 1279.5 L713 1272.8 L720.8 1265.1 L726.3 1254 L730.7 1250.7 L738.5 1246.3 L747.3 1237.4 L754 1228.6 L759.5 1217.5 L764 1206.4 L767.3 1195.4 L770.6 1184.3 L773.6 1180 L780 1162.1 L785 1151.4 L790 1148.6 L794.3 1147.9 L799.3 1142.1 L802.9 1133.6 L806.4 1126.4 L810 1119.3 L812.9 1112.1 L815 1105 L817.1 1097.9 L818.6 1090.7 L821.1 1074.3 L824.3 1061.4 L827.5 1052.8 L830.7 1042.1 L833.9 1031.4 L836 1020 L840.6 1008.6 L846.3 997.1 L850.9 991.4 L853.1 997.1 L856.6 1008.6 L860 1010.9 L865.7 1004 L870.3 999.4 L874.9 1002.9 L879.4 1005.1 L884 991.4 L888.6 974.3 L893.1 962.9 L896.6 960.6 L900 965.1 L904.6 968.6 L909.1 960.6 L912.6 960.6 L916 968.6 L919.4 983.4 L921.1 990 L924.3 1011.4 L928.6 1032.8 L932.9 1045.7 L938.2 1054.3 L941.4 1065 L944.6 1075.7 L948.9 1086.4 L952.1 1097.1 L956.4 1107.8 L960.7 1123.9 L965 1140 L972 1148 L980 1154.3 L983.4 1163.4 L988 1172.6 L994.9 1174.9 L999.4 1180.6 L1004 1186.3 L1008.6 1193.2 L1013.2 1202.3 L1018.9 1202.3 L1024.6 1203.5 L1030.3 1206.9 L1036 1210.3 L1044 1209.2 L1049.7 1214.9 L1055.5 1218.3 L1062.3 1218.3 L1068 1224 L1074.9 1228.6 L1080.6 1233.2 L1087.5 1233.2 L1093.2 1235.5 L1097.8 1240 L1103.5 1241.1 L1109.2 1241.1 L1114.9 1240 L1119.5 1246.9 L1124 1251.5 L1127 1253.4 L1133.1 1256.9 L1138.3 1258.6 L1144.5 1256.9 L1150.6 1261.2 L1156.7 1264.7 L1163.7 1265.6 L1172.4 1267.4 L1181.2 1268.2 L1189.9 1269.1 L1195.1 1266.5 L1198.6 1260.4 L1201.2 1249.9 L1202.1 1241.2 L1203 1228 L1203.9 1219.3 L1204.7 1197.5 L1205.6 1180 L1208 1100 L1211 1044.3 L1213.5 1100 L1215.2 1180 L1215.2 1197.5 L1217 1232.4 L1219.6 1258.6 L1222.2 1276.1 L1224.8 1287.4 L1233.6 1287.9 L1250.2 1288.3" stroke="#ff00ff"/>
</g>
<text transform="translate(516.4 1300.9) scale(1.04 1)" font-size="36" text-anchor="end">0.00</text>
<text transform="translate(516.4 1231.2) scale(1.04 1)" font-size="36" text-anchor="end">0.05</text>
<text transform="translate(516.4 1161.5) scale(1.04 1)" font-size="36" text-anchor="end">0.10</text>
<text transform="translate(516.4 1091.8) scale(1.04 1)" font-size="36" text-anchor="end">0.15</text>
<text transform="translate(516.4 1022.2) scale(1.04 1)" font-size="36" text-anchor="end">0.20</text>
<text transform="translate(516.4 952.5) scale(1.04 1)" font-size="36" text-anchor="end">0.25</text>
<text transform="translate(516.4 882.8) scale(1.04 1)" font-size="36" text-anchor="end">0.30</text>
<text transform="translate(516.4 813.1) scale(1.04 1)" font-size="36" text-anchor="end">0.35</text>
<text transform="translate(516.4 743.4) scale(1.04 1)" font-size="36" text-anchor="end">0.40</text>
<text transform="translate(527.6 1330) scale(1.0 1)" font-size="36" text-anchor="middle">-60</text>
<text transform="translate(641.8 1330) scale(1.0 1)" font-size="36" text-anchor="middle">-50</text>
<text transform="translate(755.9 1330) scale(1.0 1)" font-size="36" text-anchor="middle">-40</text>
<text transform="translate(870.1 1330) scale(1.0 1)" font-size="36" text-anchor="middle">-30</text>
<text transform="translate(984.3 1330) scale(1.0 1)" font-size="36" text-anchor="middle">-20</text>
<text transform="translate(1098.5 1330) scale(1.0 1)" font-size="36" text-anchor="middle">-10</text>
<text transform="translate(1212.6 1330) scale(1.0 1)" font-size="36" text-anchor="middle">0</text>
<text transform="translate(1326.8 1330) scale(1.0 1)" font-size="36" text-anchor="middle">10</text>
<text transform="translate(810.7 1392.1) scale(1.01 1)" font-size="36">Energy/kJ.mol<tspan font-size="24" dy="-15">-1</tspan></text>
<text transform="translate(414.3 993.6) rotate(-90)" font-size="36" text-anchor="middle">Probability</text>
<text transform="translate(1286 796.5) scale(1.0 1)" font-size="49">c</text>
<rect x="539.6" y="745.3" width="219.7" height="274.2" fill="#fff" stroke="#000" stroke-width="4.2"/>
<path d="M545.7 770.4 H626.6" stroke="#000000" stroke-width="4.4" stroke-linecap="round"/>
<text transform="translate(635 784.5) scale(1.0 1)" font-size="36">1 kPa</text>
<path d="M545.7 815.2 H626.6" stroke="#ff0000" stroke-width="4.4" stroke-linecap="round"/>
<text transform="translate(635 828.8) scale(1.0 1)" font-size="36">10 kPa</text>
<path d="M545.7 860.1 H626.6" stroke="#00ff00" stroke-width="4.4" stroke-linecap="round"/>
<text transform="translate(635 873) scale(1.0 1)" font-size="36">20 kPa</text>
<path d="M545.7 904.9 H626.6" stroke="#0000ff" stroke-width="4.4" stroke-linecap="round"/>
<text transform="translate(635 917.3) scale(1.0 1)" font-size="36">60 kPa</text>
<path d="M545.7 949.8 H626.6" stroke="#00ffff" stroke-width="4.4" stroke-linecap="round"/>
<text transform="translate(635 961.5) scale(1.0 1)" font-size="36">80 kPa</text>
<path d="M545.7 994.6 H626.6" stroke="#ff00ff" stroke-width="4.4" stroke-linecap="round"/>
<text transform="translate(635 1005.8) scale(1.0 1)" font-size="36">100 kPa</text>
</g>
</svg></body></html>
